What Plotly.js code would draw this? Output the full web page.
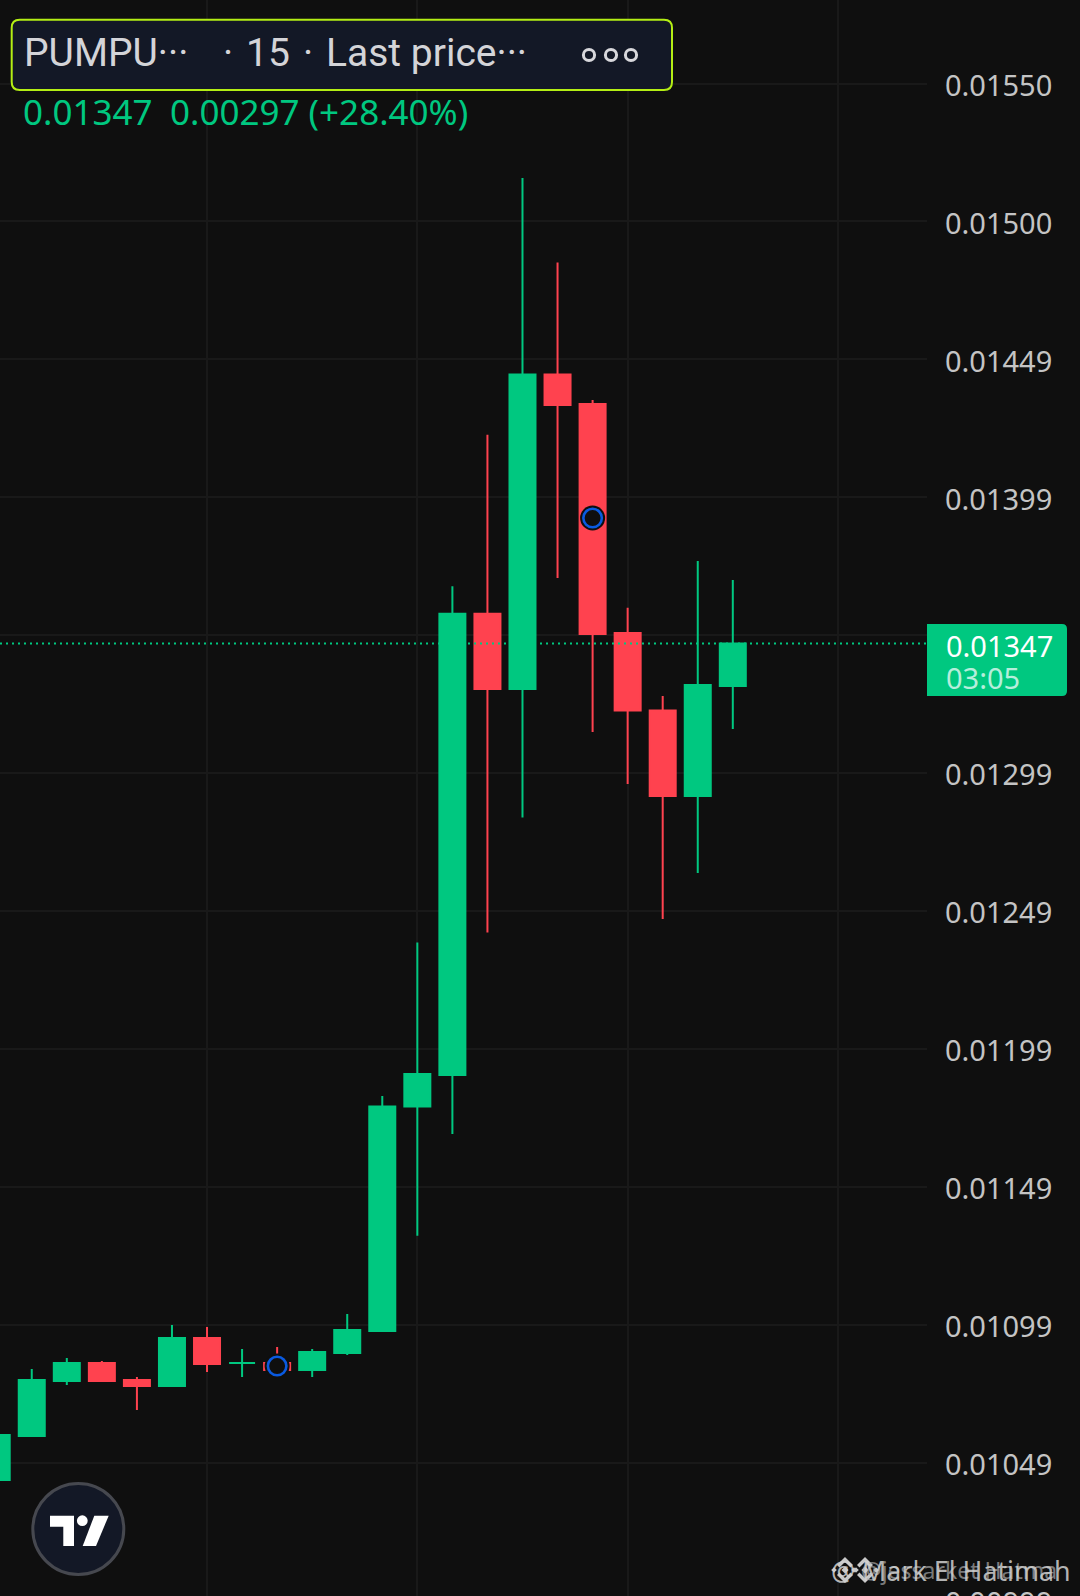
<!DOCTYPE html>
<html>
<head>
<meta charset="utf-8">
<script src="https://cdn.plot.ly/plotly-3.0.1.min.js"></script>
<style>
html,body{margin:0;padding:0;background:#0f0f0f;width:1080px;height:1596px;overflow:hidden}
#chart{width:1080px;height:1640px}
</style>
</head>
<body>
<div id="chart"></div>
<script>
// ---- Data ----
const bars   = [0,1,2,3,4,5,6,7,8,9,10,11,12,13,14,15,16,17,18,19,20,21];
const opens  = [.0104283,.0105881,.0107878,.0108532,.0107915,.0107697,.0109440,.0108532,.0108532,.0108278,.0108895,.0109694,.0117847,.0118991,.0135741,.0133010,.0144428,.0143360,.0135043,.0132229,.0129124,.0133119];
const highs  = [.0105917,.0108314,.0108714,.0108605,.0108023,.0109912,.0109839,.0109040,.0109113,.0109040,.0110311,.0118229,.0123800,.0136739,.0142245,.0151568,.0148495,.0143505,.0135962,.0132755,.0137658,.0136968];
const lows   = [.0104283,.0105881,.0107733,.0107878,.0106825,.0107697,.0108205,.0108023,.0108278,.0108023,.0108822,.0109694,.0113155,.0116849,.0124170,.0128346,.0137041,.0131448,.0129559,.0124657,.0126327,.0131557];
const closes = [.0105917,.0107915,.0108532,.0107878,.0107697,.0109440,.0108496,.0108532,.0108278,.0108931,.0109730,.0117847,.0119028,.0135741,.0133010,.0144428,.0143324,.0135007,.0132229,.0129124,.0133155,.013466];
const tickValues = [.0155,.014999,.014498,.013997,.013496,.012995,.012494,.011993,.011492,.010991,.01049,.009989];
const tickLabels = ['0.01550','0.01500','0.01449','0.01399','','0.01299','0.01249','0.01199','0.01149','0.01099','0.01049','0.00999'];
const gridBars = [6,12,18,24];
const markerBars = [8,17];
const markerPrices = [.0108423,.0139220];
const lastPrice = .013466;
const countdown = '03:05';
const change = '0.00297 (+28.40%)';

// ---- Styling ----
const W=1080,H=1640,PW=927;
const GREEN='#00c880',RED='#ff424f',BG='#0f0f0f',PANEL='#131826',GRID='#191919';
const px=x=>x/PW, py=y=>1-y/H;
const pathOf=pts=>pts.map((p,i)=>(i?'L':'M')+px(p[0]).toFixed(5)+' '+py(p[1]).toFixed(5)).join(' ');
function roundRect(x0,y0,x1,y1,rl,rr){
  const P=(x,y)=>px(x).toFixed(5)+' '+py(y).toFixed(5);
  return 'M'+P(x0+rl,y0)+' L'+P(x1-rr,y0)+' Q'+P(x1,y0)+' '+P(x1,y0+rr)+' L'+P(x1,y1-rr)+' Q'+P(x1,y1)+' '+P(x1-rr,y1)+
         ' L'+P(x0+rl,y1)+(rl?' Q'+P(x0,y1)+' '+P(x0,y1-rl)+' L'+P(x0,y0+rl)+' Q'+P(x0,y0)+' '+P(x0+rl,y0):' L'+P(x0,y0))+' Z';
}
const circle=(cx,cy,r,fill,stroke,w)=>({type:'circle',xref:'paper',yref:'paper',x0:px(cx-r),x1:px(cx+r),y0:py(cy+r),y1:py(cy-r),fillcolor:fill,line:{color:stroke,width:w}});
const poly=(pts,fill)=>({type:'path',xref:'paper',yref:'paper',path:pathOf(pts)+' Z',fillcolor:fill,line:{width:0}});
const label=(x,y,text,size,color,family,anchor)=>({xref:'paper',yref:'paper',x:px(x),y:py(y),text:text,showarrow:false,xanchor:anchor||'left',yanchor:'middle',borderpad:0,font:{size:size,color:color,family:family||'Roboto, sans-serif'}});

function binanceIcon(cx,cy,c){
  const d=(x,y,r)=>poly([[x,y-r],[x+r,y],[x,y+r],[x-r,y]],c);
  return [d(cx,cy,3.6),d(cx-11,cy,2.8),d(cx+11,cy,2.8),
    poly([[cx,cy-13],[cx+8,cy-5],[cx+5.5,cy-2.5],[cx,cy-8],[cx-5.5,cy-2.5],[cx-8,cy-5]],c),
    poly([[cx,cy+13],[cx+8,cy+5],[cx+5.5,cy+2.5],[cx,cy+8],[cx-5.5,cy+2.5],[cx-8,cy+5]],c)];
}

const shapes=[
  {type:'line',xref:'paper',yref:'y',x0:0,x1:1,y0:lastPrice,y1:lastPrice,line:{color:GREEN,width:2,dash:'2px,4px'}},
  {type:'path',xref:'paper',yref:'paper',path:roundRect(11.7,19.8,672,90,8,8),fillcolor:PANEL,line:{color:'#b4ee14',width:2}},
  circle(589,55,5.6,'rgba(0,0,0,0)','#d8d8dc',3),
  circle(611,55,5.6,'rgba(0,0,0,0)','#d8d8dc',3),
  circle(631,55,5.6,'rgba(0,0,0,0)','#d8d8dc',3),
  {type:'path',xref:'paper',yref:'paper',path:roundRect(927,624,1067,696,0,5),fillcolor:GREEN,line:{width:0}},
  circle(78.3,1529,45.5,PANEL,'#46484f',3),
  poly([[50,1515.7],[74,1515.7],[74,1546],[63.3,1546],[63.3,1526.7],[50,1526.7]],'#ffffff'),
  circle(82.3,1520.7,5.4,'#ffffff','#ffffff',0),
  poly([[94.3,1515.7],[108.7,1515.7],[96,1546],[82.7,1546]],'#ffffff'),
  ...binanceIcon(845,1570,'#c8c8c8'),
  ...binanceIcon(865,1570,'#c8c8c8')
];

const annotations=[
  label(23,53,'PUMPU···',39,'#d4d4d8'),
  label(222,53,'·',39,'#d4d4d8'),
  label(245,53,'15',39,'#d4d4d8'),
  label(302,53,'·',39,'#d4d4d8'),
  label(324.5,53,'Last price···',39,'#d4d4d8'),
  label(22.4,111.5,lastPrice.toFixed(5),35,GREEN,'Noto Sans, sans-serif'),
  label(168.5,111.5,change,35,GREEN,'Noto Sans, sans-serif'),
  label(945,645.5,lastPrice.toFixed(5),29,'#ffffff','Noto Sans, sans-serif'),
  label(945,677.5,countdown,29,'#b5eedb','Noto Sans, sans-serif'),
  label(1058,1570,'@jessarket Hatma',23,'rgba(170,170,170,.7)','Noto Sans, sans-serif','right'),
  label(1072,1570,'@ Mark El Hatimah',26.8,'rgba(210,210,210,.85)','Noto Sans, sans-serif','right')
];

const traces=[
  {type:'candlestick',x:bars,open:opens,high:highs,low:lows,close:closes,whiskerwidth:0,
   increasing:{line:{color:GREEN,width:2},fillcolor:GREEN},
   decreasing:{line:{color:RED,width:2},fillcolor:RED},
   showlegend:false,hoverinfo:'skip'},
  {type:'scatter',mode:'markers',x:markerBars,y:markerPrices,
   marker:{size:25,color:BG,line:{width:0}},showlegend:false,hoverinfo:'skip'},
  {type:'scatter',mode:'markers',x:markerBars,y:markerPrices,
   marker:{size:18.5,color:BG,line:{color:'#0a5ae0',width:2.6}},showlegend:false,hoverinfo:'skip'}
];

const layout={
  width:W,height:H,autosize:false,
  margin:{l:0,r:W-PW,t:0,b:0,pad:0},
  paper_bgcolor:BG,plot_bgcolor:BG,
  showlegend:false,boxgap:0.258,boxgroupgap:0,boxmode:'overlay',
  dragmode:false,
  xaxis:{type:'linear',range:[0.094,26.54],tickmode:'array',tickvals:gridBars,showticklabels:false,
         showgrid:true,gridcolor:GRID,gridwidth:2,zeroline:false,showline:false,ticks:'',rangeslider:{visible:false},fixedrange:true},
  yaxis:{type:'linear',side:'right',range:[.00984726,.01580325],tickmode:'array',tickvals:tickValues,ticktext:tickLabels,
         showgrid:true,gridcolor:GRID,gridwidth:2,zeroline:false,showline:false,ticks:'',ticklabelstandoff:17,ticklabelshift:2,automargin:false,
         tickfont:{size:29,color:'#c4c4c4',family:'Noto Sans, sans-serif'},fixedrange:true},
  shapes:shapes,annotations:annotations
};
Plotly.newPlot('chart',traces,layout,{displayModeBar:false,staticPlot:true});
</script>
</body>
</html>
